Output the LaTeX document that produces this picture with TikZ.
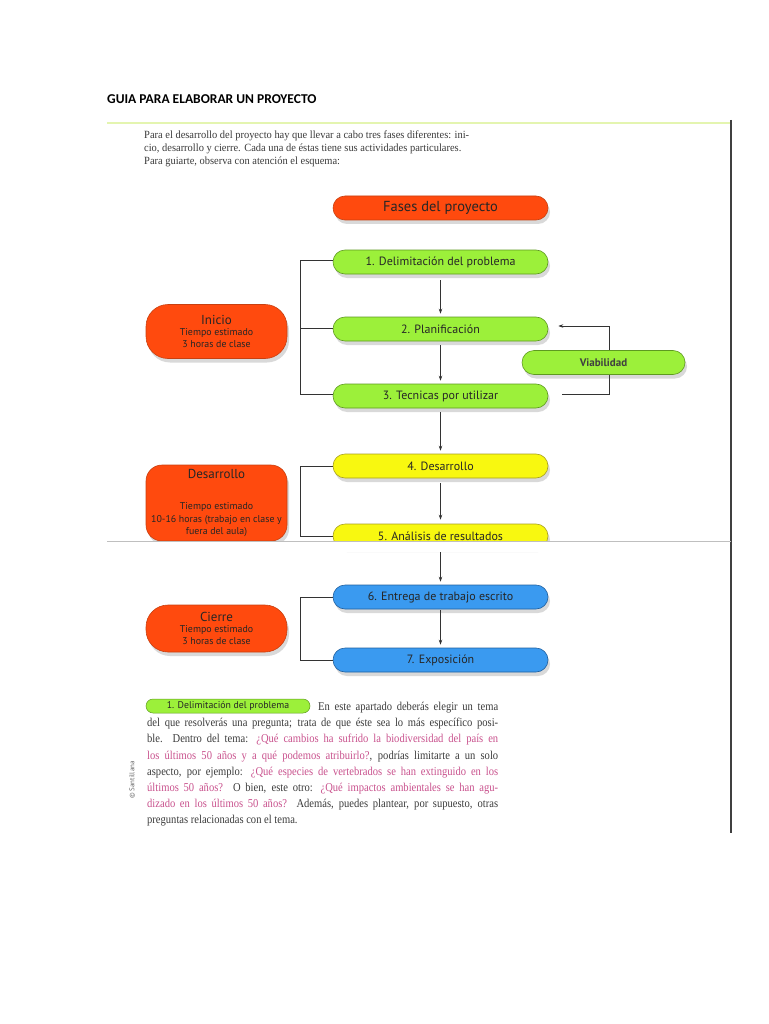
\documentclass[tikz,border=0pt]{standalone}
\usepackage{fontspec}
\setmainfont{Liberation Serif}[FakeStretch=0.88]
\newfontfamily\introfont{Liberation Serif}[FakeStretch=0.95]
\newfontfamily\boxfont{PT Sans}
\newfontfamily\titlefont{Carlito}
\usetikzlibrary{arrows.meta,shadows}
\definecolor{orangeF}{HTML}{FF4A0E}
\definecolor{orangeD}{HTML}{C84010}
\definecolor{greenF}{HTML}{9CF03A}
\definecolor{greenD}{HTML}{5E9A20}
\definecolor{yellowF}{HTML}{F8F810}
\definecolor{yellowD}{HTML}{A8A020}
\definecolor{blueF}{HTML}{3A9AF0}
\definecolor{blueD}{HTML}{2060A0}
\definecolor{pinkT}{HTML}{C8508C}
\definecolor{greyT}{HTML}{3A3A3A}
\definecolor{lineG}{HTML}{E4F5B0}
\newcommand{\bigsz}{\fontsize{13}{13}\selectfont}
\newcommand{\smsz}{\fontsize{9.9}{11}\selectfont}
\begin{document}
\begin{tikzpicture}[x=1pt,y=-1pt,
  shd/.style={drop shadow={shadow xshift=2pt,shadow yshift=-4pt,opacity=0.25,fill=black!60}},
  phasebox/.style={shd,draw=#1D,fill=#1F,line width=0.6pt,rounded corners=12pt,
    minimum width=215pt,minimum height=24pt,inner sep=0pt,
    font=\boxfont\fontsize{12}{14}\selectfont,text=black!85},
  sidebox/.style={shd,draw=orangeD,fill=orangeF,line width=0.6pt,
    minimum width=141pt,inner sep=0pt,align=center,text=black!85,font=\boxfont},
  arr/.style={-{Stealth[length=5pt,width=3.5pt]},line width=0.7pt,black!80},
  brk/.style={line width=0.7pt,black!80}
]
\useasboundingbox (0,0) rectangle (768,1024);
% title and page lines
\node[anchor=base west,inner sep=0pt,font=\titlefont\bfseries\fontsize{13.5}{15}\selectfont] (title) at (107,104) {GUIA PARA ELABORAR UN PROYECTO};
\coordinate (gl1) at (107,123);
\coordinate (gl2) at (731,123);
\draw[lineG,line width=1.6pt] (gl1) -- (gl2);
\coordinate (vl1) at (731,120);
\coordinate (vl2) at (731,833);
\draw[black!75,line width=1.3pt] (vl1) -- (vl2);
% intro text
\node[anchor=north west,inner sep=0pt,align=left,text=greyT,font=\introfont\fontsize{11}{12.8}\selectfont] (intro) at (144,131)
{Para el desarrollo del proyecto hay que llevar a cabo tres fases diferentes: ini-\\
cio, desarrollo y cierre. Cada una de éstas tiene sus actividades particulares.\\
Para guiarte, observa con atención el esquema:};
% phase boxes
\node[phasebox=orange,font=\boxfont\fontsize{14.5}{16}\selectfont] (fases) at (440.5,208) {Fases del proyecto};
\node[phasebox=green] (b1) at (440.5,262) {1. Delimitación del problema};
\node[phasebox=green] (b2) at (440.5,329) {2. Planificación};
\node[phasebox=green] (b3) at (440.5,396) {3. Tecnicas por utilizar};
\node[phasebox=yellow] (b4) at (440.5,466) {4. Desarrollo};
\node[phasebox=yellow] (b5) at (440.5,536) {5. Análisis de resultados};
\node[phasebox=blue] (b6) at (440.5,597) {6. Entrega de trabajo escrito};
\node[phasebox=blue] (b7) at (440.5,660) {7. Exposición};
% side boxes
\node[sidebox,rounded corners=22pt,minimum height=54pt] (inicio) at (216.5,331.5)
{\bigsz Inicio\\[-1pt]\smsz Tiempo estimado\\\smsz 3 horas de clase};
\node[sidebox,rounded corners=16pt,minimum height=76pt] (desa) at (216.5,503)
{\bigsz Desarrollo\\[19pt]\smsz Tiempo estimado\\[1.5pt]\smsz 10-16 horas (trabajo en clase y\\[0pt]\smsz fuera del aula)};
\node[sidebox,rounded corners=22pt,minimum height=47pt] (cierre) at (216.5,628.5)
{\bigsz Cierre\\[-1pt]\smsz Tiempo estimado\\\smsz 3 horas de clase};
% brackets
\coordinate (bx) at (300,0);
\draw[brk] ([yshift=2pt]b1.west) -- ([yshift=2pt]b1.west -| bx) -- ([yshift=2pt]b3.west -| bx) -- ([yshift=2pt]b3.west);
\draw[brk] ([yshift=1pt]b2.west) -- ([yshift=1pt]b2.west -| bx);
\draw[brk] (b4.west) -- (b4.west -| bx) -- (b5.west -| bx) -- (b5.west);
\draw[brk] (b6.west) -- (b6.west -| bx) -- (b7.west -| bx) -- (b7.west);
% down arrows
\draw[arr,shorten <=6pt,shorten >=3pt] (b1) -- (b2);
\draw[arr,shorten <=4pt,shorten >=3pt] (b2) -- (b3);
\draw[arr,shorten <=4pt,shorten >=3pt] (b3) -- (b4);
\draw[arr,shorten <=5pt,shorten >=4pt] (b4) -- (b5);
\draw[arr,shorten <=0pt,shorten >=3pt] (b5) -- (b6);
\draw[arr,shorten <=1pt,shorten >=3pt] (b6) -- (b7);
% viability loop
\coordinate (via) at (609,0);
\draw[arr] ([xshift=14pt,yshift=2pt]b3.east) -- ([yshift=2pt]b3.east -| via) -- ([yshift=3pt]b2.east -| via) -- ([xshift=10pt,yshift=3pt]b2.east);
\node[shd,draw=greenD,fill=greenF,line width=0.6pt,rounded corners=12pt,minimum width=163pt,minimum height=24pt,inner sep=0pt,
  font=\boxfont\bfseries\fontsize{11}{13}\selectfont,text=black!75] (viab) at (603.5,362.5) {Viabilidad};
% page break line (covers the bottom of box 5)
\fill[white] (320,541.5) rectangle (560,552);
\fill[white] (140,541.5) rectangle (300,552);
\coordinate (pl1) at (107,541);
\coordinate (pl2) at (731,541);
\draw[black!25,line width=0.8pt] (pl1) -- (pl2);
% bottom paragraph
\node[draw=greenD,fill=greenF,line width=0.5pt,rounded corners=7pt,minimum width=164pt,minimum height=14pt,inner sep=0pt,
  font=\boxfont\fontsize{9.8}{11}\selectfont,text=black!85] (lab) at (228,706) {1. Delimitación del problema};
\node[anchor=north west,inner sep=0pt,text width=351pt,align=justify,text=greyT,font=\fontsize{12}{16.2}\selectfont] (para) at (147,702)
{\hspace*{171pt}En este apartado deberás elegir un tema\linebreak
del que resolverás una pregunta; trata de que éste sea lo más específico posi-\linebreak
ble.\ \ Dentro del tema: \textcolor{pinkT}{¿Qué cambios ha sufrido la biodiversidad del país en\linebreak
los últimos 50 años y a qué podemos atribuirlo?}, podrías limitarte a un solo\linebreak
aspecto, por ejemplo: \textcolor{pinkT}{¿Qué especies de vertebrados se han extinguido en los\linebreak
últimos 50 años?} O bien, este otro: \textcolor{pinkT}{¿Qué impactos ambientales se han agu-\linebreak
dizado en los últimos 50 años?} Además, puedes plantear, por supuesto, otras\linebreak
preguntas relacionadas con el tema.\par};
\node[rotate=90,inner sep=0pt,text=black!60,font=\boxfont\fontsize{7}{9}\selectfont] (copy) at (132,780) {© Santillana};
\end{tikzpicture}
\end{document}
